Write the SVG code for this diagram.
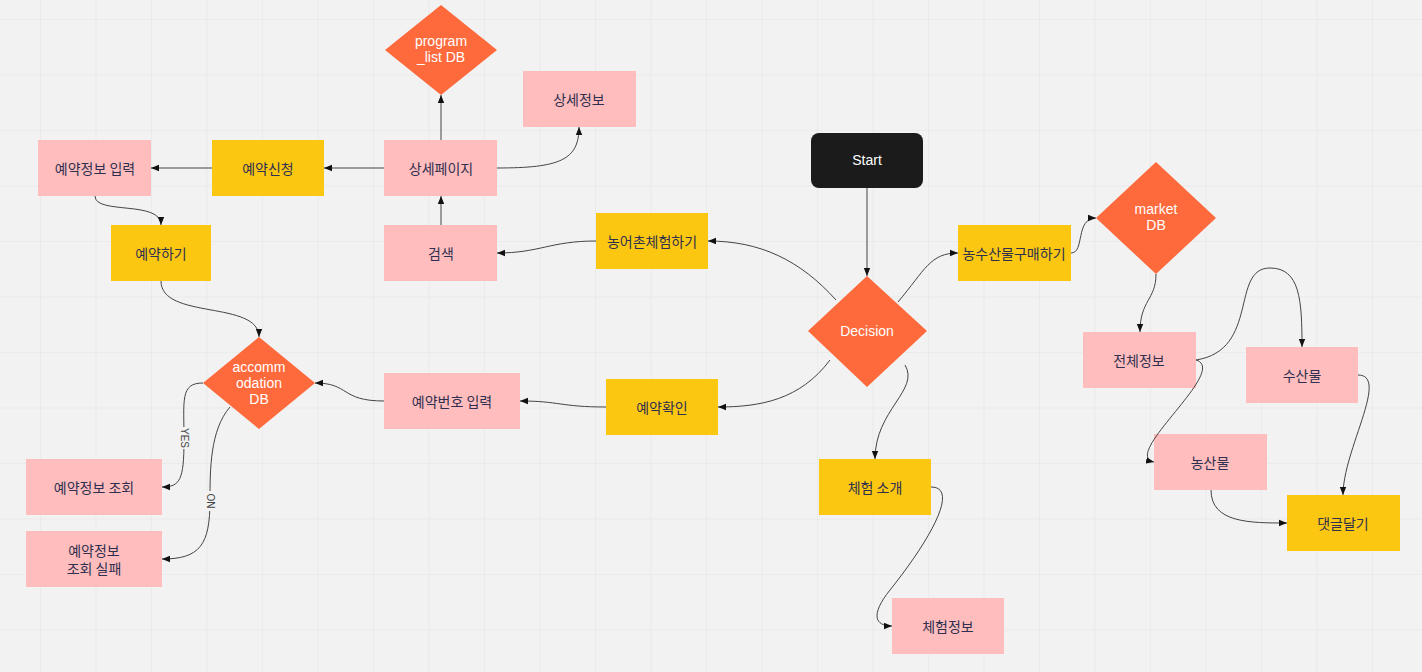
<svg xmlns="http://www.w3.org/2000/svg" width="1422" height="672" viewBox="0 0 1422 672">
<style>
.p{fill:#ffbdbd}.y{fill:#fbc711}.d{fill:#ff6a3c}
.t{font-family:"Noto Sans CJK KR","Noto Sans",sans-serif;font-size:14px;fill:#2f2f4f;text-anchor:middle;dominant-baseline:central}
.w{font-family:"Liberation Sans",Arial,sans-serif;font-size:14px;fill:#fff;text-anchor:middle}
.c path{fill:none;stroke:#444;stroke-width:1;marker-end:url(#a)}
.l{font-family:"Liberation Sans",sans-serif;font-size:10px;fill:#444;text-anchor:middle;dominant-baseline:central}
</style>
<defs>
<marker id="a" viewBox="0 0 10 10" refX="10" refY="5" markerWidth="8" markerHeight="8" markerUnits="userSpaceOnUse" orient="auto"><path d="M0,1L10,5L0,9z" fill="#111"/></marker>
<pattern id="g" x="-15.5" y="19" width="55.5" height="55.5" patternUnits="userSpaceOnUse"><path d="M0,0H55.5M0,0V55.5" stroke="#e4e4e4" stroke-width="1" fill="none"/></pattern>
</defs>
<rect width="1422" height="672" fill="#f2f2f2"/>
<rect width="1422" height="672" fill="url(#g)"/>
<g id="n-program"><polygon class="d" points="441,5 497,50 441,95 385,50"/><text class="w" x="441" y="46">program</text><text class="w" x="441" y="62">_list DB</text></g>
<g id="n-sangsejeongbo"><rect class="p" x="523" y="71" width="113" height="56"/><text class="t" x="579" y="99">상세정보</text></g>
<g id="n-sangsepage"><rect class="p" x="384" y="140" width="113" height="56"/><text class="t" x="441" y="168">상세페이지</text></g>
<g id="n-yeyaksincheong"><rect class="y" x="212" y="140" width="112" height="56"/><text class="t" x="268" y="168">예약신청</text></g>
<g id="n-yeyakinput"><rect class="p" x="38" y="140" width="113" height="56"/><text class="t" x="95" y="168">예약정보 입력</text></g>
<g id="n-yeyakhagi"><rect class="y" x="111" y="225" width="100" height="56"/><text class="t" x="161" y="253">예약하기</text></g>
<g id="n-search"><rect class="p" x="384" y="225" width="113" height="56"/><text class="t" x="441" y="253">검색</text></g>
<g id="n-experience"><rect class="y" x="596" y="213" width="112" height="56"/><text class="t" x="652" y="241">농어촌체험하기</text></g>
<g id="n-start"><rect x="811" y="133" width="112" height="55" rx="8" fill="#1b1b1b"/><text class="w" x="867" y="165">Start</text></g>
<g id="n-decision"><polygon class="d" points="867,276 927,331 867,387 808,331"/><text class="w" x="867" y="336">Decision</text></g>
<g id="n-buy"><rect class="y" x="958" y="225" width="113" height="56"/><text class="t" x="1014" y="253">농수산물구매하기</text></g>
<g id="n-market"><polygon class="d" points="1156,162 1216,218 1156,274 1096,218"/><text class="w" x="1156" y="214">market</text><text class="w" x="1156" y="230">DB</text></g>
<g id="n-all"><rect class="p" x="1083" y="332" width="113" height="56"/><text class="t" x="1139" y="360">전체정보</text></g>
<g id="n-sea"><rect class="p" x="1246" y="347" width="112" height="56"/><text class="t" x="1302" y="375">수산물</text></g>
<g id="n-farm"><rect class="p" x="1154" y="434" width="113" height="56"/><text class="t" x="1210" y="462">농산물</text></g>
<g id="n-comment"><rect class="y" x="1287" y="495" width="113" height="56"/><text class="t" x="1343" y="523">댓글달기</text></g>
<g id="n-intro"><rect class="y" x="819" y="459" width="112" height="56"/><text class="t" x="875" y="487">체험 소개</text></g>
<g id="n-expinfo"><rect class="p" x="892" y="598" width="112" height="56"/><text class="t" x="948" y="626">체험정보</text></g>
<g id="n-check"><rect class="y" x="606" y="379" width="112" height="56"/><text class="t" x="662" y="407">예약확인</text></g>
<g id="n-numinput"><rect class="p" x="384" y="373" width="136" height="56"/><text class="t" x="452" y="401">예약번호 입력</text></g>
<g id="n-accom"><polygon class="d" points="259,337 315,383 259,429 203,383"/><text class="w" x="259" y="372">accomm</text><text class="w" x="259" y="388">odation</text><text class="w" x="259" y="404">DB</text></g>
<g id="n-lookup"><rect class="p" x="26" y="459" width="136" height="56"/><text class="t" x="94" y="487">예약정보 조회</text></g>
<g id="n-fail"><rect class="p" x="26" y="531" width="136" height="56"/><text class="t" x="94" y="550">예약정보</text><text class="t" x="94" y="568">조회 실패</text></g>
<g class="c" id="connectors">
<path d="M441,140V95"/>
<path d="M497,168C560,168 579,160 579,127"/>
<path d="M384,168H324"/>
<path d="M212,168H151"/>
<path d="M95,196C95,215 161,200 161,225"/>
<path d="M161,281C161,320 259,300 259,337"/>
<path d="M441,225V196"/>
<path d="M596,241C550,241 540,253 497,253"/>
<path d="M836,300C800,260 760,241 708,241"/>
<path d="M867,188V276"/>
<path d="M898,302C925,270 930,253 958,253"/>
<path d="M1071,253C1085,253 1075,218 1096,218"/>
<path d="M1156,274C1156,300 1140,300 1140,332"/>
<path d="M1196,360C1260,350 1230,268 1270,268C1300,268 1302,300 1302,347"/>
<path d="M1196,360C1230,370 1120,455 1154,462"/>
<path d="M1358,375C1390,375 1343,450 1343,495"/>
<path d="M1211,490C1211,523 1250,523 1287,523"/>
<path d="M905,365C920,390 875,410 875,459"/>
<path d="M931,487C960,487 930,540 890,590C870,615 875,626 892,626"/>
<path d="M830,360C800,400 760,407 718,407"/>
<path d="M606,407C560,407 560,401 520,401"/>
<path d="M384,401C340,401 350,383 315,383"/>
<path d="M203,383C180,383 184,400 184,440C184,480 180,487 162,487"/>
<path d="M230,407C210,430 210,470 210,500C210,545 200,559 162,559"/>
</g>
<g id="labels">
<rect x="179" y="427" width="10" height="22" fill="#f2f2f2"/><text class="l" transform="translate(184,438) rotate(90)">YES</text>
<rect x="205" y="491" width="10" height="20" fill="#f2f2f2"/><text class="l" transform="translate(210,501) rotate(90)">ON</text>
</g>
</svg>
